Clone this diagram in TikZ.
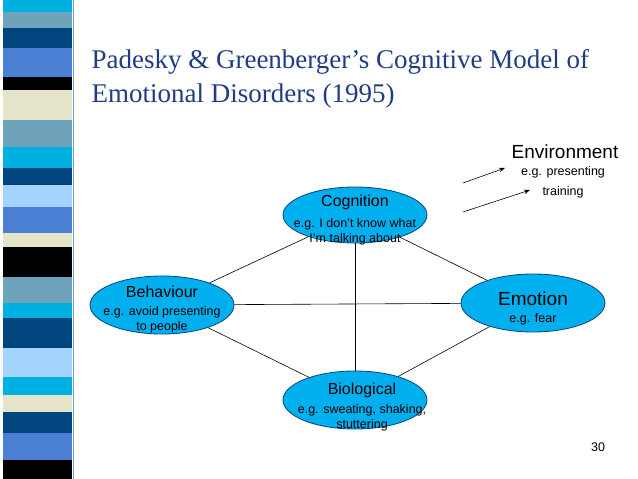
\documentclass[tikz,border=0pt]{standalone}
\usepackage{fontspec}
\setmainfont{Liberation Sans}
\newfontfamily\titlefont{Liberation Serif}
\usetikzlibrary{shapes.geometric,arrows.meta}
\definecolor{cy}{HTML}{00B0E0}
\definecolor{gb}{HTML}{6FA3BC}
\definecolor{nv}{HTML}{00457E}
\definecolor{bl}{HTML}{4A7FD4}
\definecolor{cr}{HTML}{E5E3C8}
\definecolor{lb}{HTML}{A4D4FF}
\definecolor{ttl}{HTML}{1F3C84}
\definecolor{ell}{HTML}{00B0EE}
\tikzset{
 oval/.style={ellipse,draw=nv,fill=ell,line width=0.8pt,minimum width=144pt,minimum height=56pt},
 head/.style={font=\fontsize{16}{18}\selectfont},
 sub/.style={font=\fontsize{12.5}{14.5}\selectfont,align=center},
 link/.style={line width=0.6pt}
}
\begin{document}
\begin{tikzpicture}[x=1pt,y=-1pt]
\useasboundingbox (0,0) rectangle (638,479);
\fill[white] (0,0) rectangle (638,479);
\def\stripes{0/12/cy,12/28/gb,28/48/nv,48/77/bl,77/90/black,90/120/cr,120/147/gb,147/168/cy,168/185/nv,185/207/lb,207/233/bl,233/247/cr,247/277/black,277/303/gb,303/318/cy,318/348/nv,348/377/lb,377/395/cy,395/412/cr,412/433/nv,433/460/bl,460/479/black}
\foreach \a/\b/\c in \stripes {\fill[\c] (3,\a) rectangle (72,\b);}
\draw[gb,line width=0.8pt] (73,0) -- (73,479);
\node[anchor=west,text=ttl,font=\titlefont\fontsize{27}{34}\selectfont,align=left] (title) at (88,79) {Padesky \& Greenberger’s Cognitive Model of\\Emotional Disorders (1995)};
\node[oval] (cog) at (355,215) {};
\node[oval,minimum height=58pt] (beh) at (162,305) {};
\node[oval,minimum height=58pt] (emo) at (533,303) {};
\node[oval,minimum height=58pt] (bio) at (355,400) {};
\draw[link] (cog) -- (beh);
\draw[link] (cog) -- (emo);
\draw[link] (cog) -- (bio);
\draw[link] (beh) -- (emo);
\draw[link] (beh) -- (bio);
\draw[link] (emo) -- (bio);
\node[head] (cogh) at (355,202) {Cognition};
\node[sub] (cogs) at (355,232) {e.g. I don’t know what\\I’m talking about};
\node[head] (behh) at (162,292) {Behaviour};
\node[sub] (behs) at (162,320) {e.g. avoid presenting\\to people};
\node[font=\fontsize{19}{21}\selectfont] (emoh) at (533,299) {Emotion};
\node[sub] (emos) at (533,319) {e.g. fear};
\node[head] (bioh) at (362,390) {Biological};
\node[sub] (bios) at (362,418) {e.g. sweating, shaking,\\stuttering};
\node[font=\fontsize{19}{21}\selectfont] (env) at (565,152) {Environment};
\node[sub,font=\fontsize{12.5}{20}\selectfont] (envs) at (563,182) {e.g. presenting\\training};
\coordinate (a1) at (463,183); \coordinate (a2) at (505,168);
\coordinate (b1) at (463,212); \coordinate (b2) at (530,190);
\draw[link,-{Stealth[length=6pt]}] (a1) -- (a2);
\draw[link,-{Stealth[length=6pt]}] (b1) -- (b2);
\node[font=\fontsize{12.5}{14}\selectfont] (pg) at (598,447) {30};
\end{tikzpicture}
\end{document}
